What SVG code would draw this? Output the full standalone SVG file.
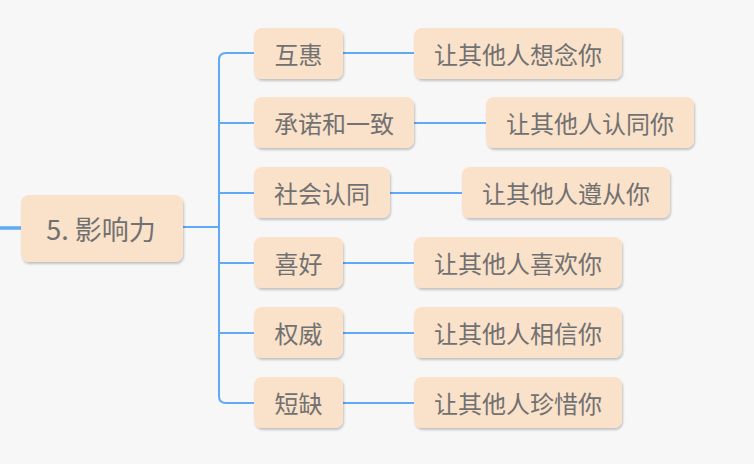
<svg xmlns="http://www.w3.org/2000/svg" width="754" height="464" viewBox="0 0 754 464">
<defs>
<filter id="sh" x="-10%" y="-20%" width="130%" height="150%">
<feDropShadow dx="1" dy="2" stdDeviation="1.2" flood-color="#000" flood-opacity="0.22"/>
</filter>
<style>
.box{fill:#fae1c9;filter:url(#sh);}
.t{font-family:"Noto Sans CJK SC","Liberation Sans",sans-serif;font-weight:400;fill:#717171;text-anchor:middle;dominant-baseline:central;}
.c{font-size:24px;}
.r{font-size:27px;}
.ln{fill:none;stroke:#5fa9f6;stroke-width:2;}
</style>
</defs>
<rect width="754" height="464" fill="#f7f7f7"/>
<g id="connectors">
<path class="ln" d="M0 228 H21" style="stroke-width:3.5"/>
<path class="ln" d="M183 227 H219"/>
<path class="ln" d="M254 53 H226 Q219 53 219 60 V396 Q219 403 226 403 H254"/>
<path class="ln" d="M219 123 H254 M219 193 H254 M219 263 H254 M219 333 H254"/>
<path class="ln" d="M343 53 H414 M414 123 H486 M390 193 H462 M343 263 H414 M343 333 H414 M343 403 H414"/>
</g>
<g id="root"><rect class="box" x="21" y="195" width="162" height="67" rx="8"/><text class="t r" x="101" y="228">5. 影响力</text></g>
<g id="n1"><rect class="box" x="254" y="28" width="89" height="51" rx="8"/><text class="t c" x="298.5" y="53">互惠</text></g>
<g id="n2"><rect class="box" x="254" y="97" width="160" height="51" rx="8"/><text class="t c" x="334" y="122">承诺和一致</text></g>
<g id="n3"><rect class="box" x="254" y="167" width="136" height="51" rx="8"/><text class="t c" x="322" y="192">社会认同</text></g>
<g id="n4"><rect class="box" x="254" y="237" width="89" height="51" rx="8"/><text class="t c" x="298.5" y="262">喜好</text></g>
<g id="n5"><rect class="box" x="254" y="307" width="89" height="51" rx="8"/><text class="t c" x="298.5" y="332">权威</text></g>
<g id="n6"><rect class="box" x="254" y="377" width="89" height="51" rx="8"/><text class="t c" x="298.5" y="402">短缺</text></g>
<g id="g1"><rect class="box" x="414" y="28" width="208" height="51" rx="8"/><text class="t c" x="518" y="53">让其他人想念你</text></g>
<g id="g2"><rect class="box" x="486" y="97" width="208" height="51" rx="8"/><text class="t c" x="590" y="122">让其他人认同你</text></g>
<g id="g3"><rect class="box" x="462" y="167" width="208" height="51" rx="8"/><text class="t c" x="566" y="192">让其他人遵从你</text></g>
<g id="g4"><rect class="box" x="414" y="237" width="208" height="51" rx="8"/><text class="t c" x="518" y="262">让其他人喜欢你</text></g>
<g id="g5"><rect class="box" x="414" y="307" width="208" height="51" rx="8"/><text class="t c" x="518" y="332">让其他人相信你</text></g>
<g id="g6"><rect class="box" x="414" y="377" width="208" height="51" rx="8"/><text class="t c" x="518" y="402">让其他人珍惜你</text></g>
</svg>
